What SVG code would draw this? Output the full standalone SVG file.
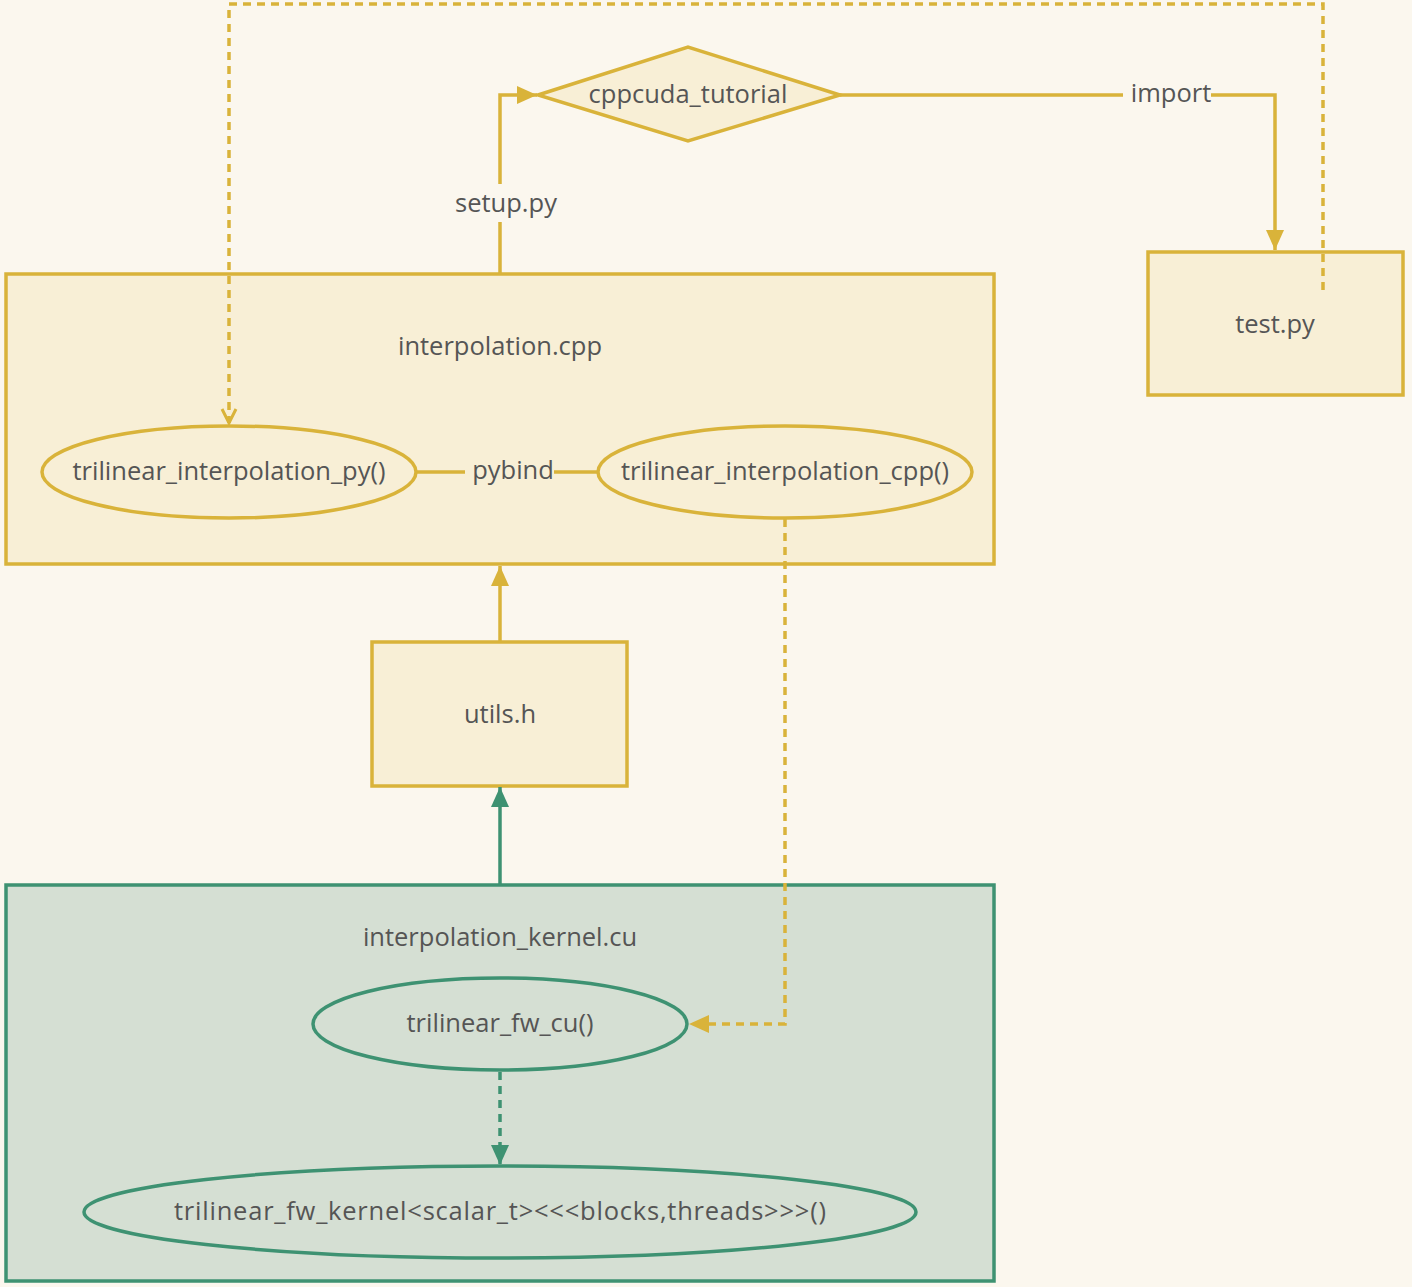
<svg xmlns="http://www.w3.org/2000/svg" width="1412" height="1287" viewBox="0 0 1412 1287">
<style>
text{font-family:"Open Sans","Noto Sans","DejaVu Sans",sans-serif;font-size:25.5px;fill:#555555;text-anchor:middle;dominant-baseline:central}
.y{fill:#F8EFD6;stroke:#D9B33A;stroke-width:3.5}
.g{fill:#D5DFD3;stroke:#3E9272;stroke-width:3.5}
.ly{fill:none;stroke:#D9B33A;stroke-width:3.5}
.lg{fill:none;stroke:#3E9272;stroke-width:3.5}
.d{stroke-dasharray:8 6}
</style>
<defs>
<marker id="ay" viewBox="0 0 20 18" refX="20" refY="9" markerWidth="20" markerHeight="18" orient="auto" markerUnits="userSpaceOnUse"><path d="M0,0L20,9L0,18z" fill="#D9B33A"/></marker>
<marker id="ag" viewBox="0 0 20 18" refX="20" refY="9" markerWidth="20" markerHeight="18" orient="auto" markerUnits="userSpaceOnUse"><path d="M0,0L20,9L0,18z" fill="#3E9272"/></marker>
<marker id="ov" viewBox="0 0 18 18" refX="16" refY="9" markerWidth="18" markerHeight="18" orient="auto" markerUnits="userSpaceOnUse"><path d="M2,2L16,9L2,16" fill="none" stroke="#D9B33A" stroke-width="3"/></marker>
</defs>
<rect width="1412" height="1287" fill="#FBF7EE"/>
<g id="interpolation_cpp"><rect class="y" x="6" y="274" width="988" height="290"/><text x="500" y="345">interpolation.cpp</text></g>
<g id="kernel_cu"><rect class="g" x="6" y="885" width="988" height="396"/><text x="500" y="936">interpolation_kernel.cu</text></g>
<g id="cppcuda_tutorial"><path class="y" d="M538,95L688,47L840,95L688,141z"/><text x="688" y="93">cppcuda_tutorial</text></g>
<g id="test_py"><rect class="y" x="1148" y="252" width="255" height="143"/><text x="1275" y="323">test.py</text></g>
<g id="utils_h"><rect class="y" x="372" y="642" width="255" height="144"/><text x="500" y="713">utils.h</text></g>
<g id="py_fn"><ellipse class="y" cx="229" cy="472" rx="187" ry="46"/><text x="229" y="470">trilinear_interpolation_py()</text></g>
<g id="cpp_fn"><ellipse class="y" cx="785" cy="472" rx="187" ry="46"/><text x="785" y="470">trilinear_interpolation_cpp()</text></g>
<g id="fw_cu"><ellipse class="g" cx="500" cy="1024" rx="187" ry="46"/><text x="500" y="1022">trilinear_fw_cu()</text></g>
<g id="fw_kernel"><ellipse class="g" cx="500" cy="1212" rx="416" ry="46"/><text x="500" y="1210" textLength="652" lengthAdjust="spacing">trilinear_fw_kernel&lt;scalar_t&gt;&lt;&lt;&lt;blocks,threads&gt;&gt;&gt;()</text></g>
<g id="connectors">
<path class="ly" d="M500,274V95H537" marker-end="url(#ay)"/>
<rect x="452" y="184" width="108" height="38" fill="#FBF7EE"/>
<text x="506" y="202">setup.py</text>
<path class="ly" d="M840,95H1275V250" marker-end="url(#ay)"/>
<rect x="1123" y="78" width="88" height="36" fill="#FBF7EE"/>
<text x="1171" y="92">import</text>
<path class="ly d" d="M1323,290V4H229V423" marker-end="url(#ov)"/>
<path class="ly" d="M416,472H598"/>
<rect x="465" y="454" width="89" height="36" fill="#F8EFD6"/>
<text x="513" y="469">pybind</text>
<path class="ly d" d="M785,519V1024H689" marker-end="url(#ay)"/>
<path class="ly" d="M500,642V566" marker-end="url(#ay)"/>
<path class="lg" d="M500,885V787" marker-end="url(#ag)"/>
<path class="lg d" d="M500,1072V1165" marker-end="url(#ag)"/>
</g>
</svg>
